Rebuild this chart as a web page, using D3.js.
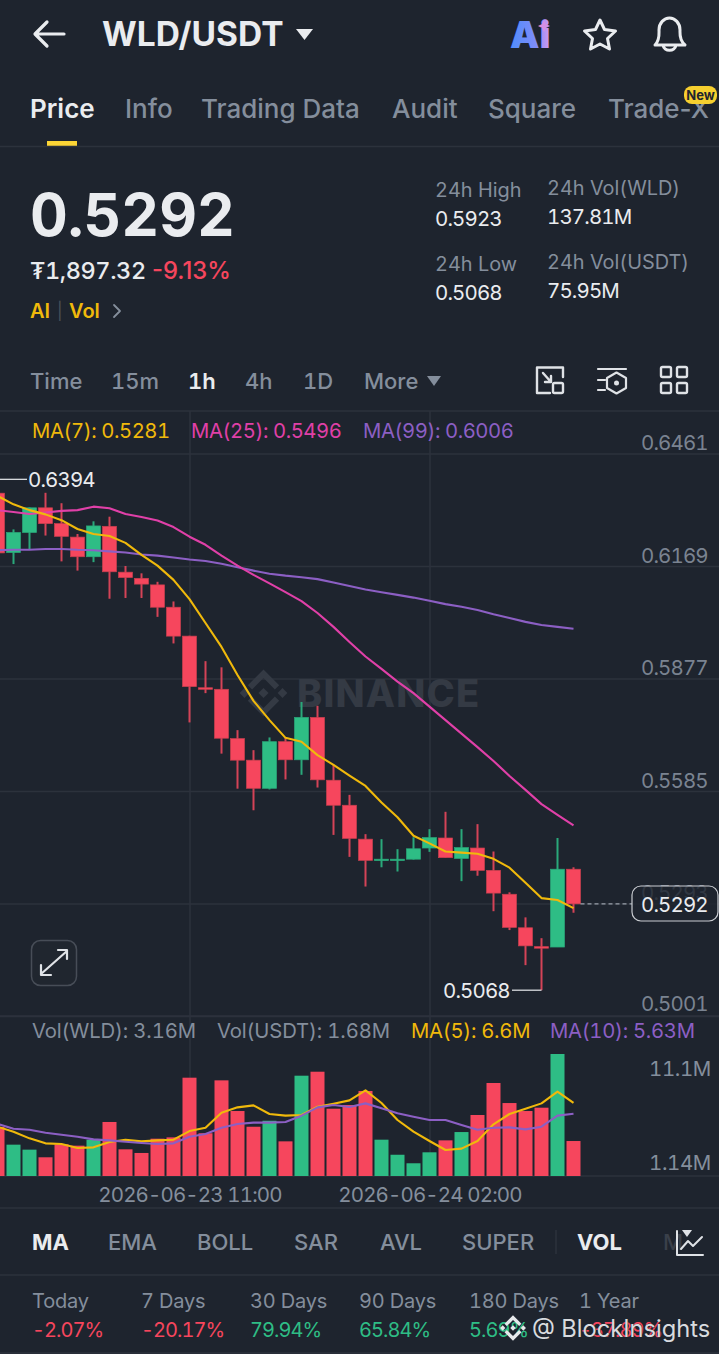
<!DOCTYPE html>
<html>
<head>
<meta charset="utf-8">
<style>
html,body{margin:0;padding:0;background:#1e242e;}
svg{display:block;}
text{font-family:Inter,"Noto Sans",sans-serif;font-variant-numeric:tabular-nums;font-feature-settings:"tnum";}
text.plain{font-variant-numeric:normal;font-feature-settings:normal;}
</style>
</head>
<body>
<svg id="chart" width="719" height="1354"></svg>
<script src="https://d3js.org/d3.v7.min.js"></script>
<script>
// one hour candles, oldest first
var openPrice = [.6358,.6204,.6256,.6320,.6279,.6244,.6193,.6272,.6153,.6137,.6120,.6062,.5987,.5853,.5849,.5721,.5665,.5592,.5713,.5666,.5776,.5613,.5548,.5460,.5405,.5405,.5408,.5437,.5463,.5410,.5437,.5379,.5317,.5230,.5181,.5180,.5382];
var highPrice = [.6372,.6264,.6321,.6359,.6332,.6252,.6285,.6297,.6169,.6150,.6128,.6077,.5988,.5922,.5906,.5743,.5691,.5724,.5722,.5816,.5806,.5653,.5575,.5473,.5460,.5434,.5465,.5486,.5531,.5486,.5499,.5428,.5322,.5257,.5203,.5463,.5387];
var lowPrice = [.6190,.6174,.6212,.6248,.6181,.6157,.6179,.6084,.6086,.6086,.6037,.5968,.5763,.5839,.5682,.5591,.5535,.5589,.5615,.5627,.5594,.5471,.5414,.5337,.5387,.5376,.5407,.5427,.5412,.5351,.5365,.5273,.5224,.5133,.5068,.5180,.5269];
var closePrice = [.6203,.6256,.6320,.6279,.6246,.6193,.6273,.6154,.6139,.6122,.6062,.5987,.5856,.5849,.5722,.5665,.5592,.5713,.5666,.5776,.5614,.5548,.5462,.5405,.5408,.5408,.5435,.5464,.5412,.5438,.5379,.5320,.5231,.5183,.5177,.5382,.5292];

var ma7 = [.6351,.6329,.6314,.6303,.6288,.6265,.6252,.6247,.6229,.6198,.6170,.6133,.6083,.6021,.5959,.5886,.5819,.5769,.5723,.5713,.5678,.5653,.5625,.5598,.5555,.5517,.5469,.5449,.5428,.5425,.5422,.5409,.5386,.5347,.5307,.5302,.5281];
var ma25 = [.6314,.6309,.6304,.6308,.6312,.6314,.6323,.6319,.6304,.6296,.6287,.6270,.6245,.6224,.6196,.6170,.6146,.6124,.6101,.6078,.6047,.6011,.5972,.5934,.5902,.5869,.5839,.5804,.5769,.5734,.5699,.5663,.5624,.5588,.5551,.5523,.5496];
var ma99 = [.6210,.6211,.6211,.6213,.6213,.6211,.6210,.6207,.6204,.6199,.6196,.6191,.6186,.6182,.6175,.6166,.6157,.6149,.6144,.6140,.6135,.6126,.6117,.6108,.6101,.6094,.6087,.6079,.6070,.6063,.6055,.6044,.6034,.6024,.6016,.6011,.6006];

// volume in millions
var volume = [4.43,2.83,2.38,1.69,2.86,2.74,3.28,4.88,2.41,2.08,3.37,3.49,8.88,3.86,8.64,5.87,4.45,4.99,3.13,9.06,9.42,6.08,6.41,7.68,3.28,1.92,1.15,2.14,3.22,3.97,5.51,8.40,6.59,5.87,6.17,11.02,3.16];
var volMa5 = [4.45,4.00,3.40,2.95,2.89,2.53,2.59,3.07,3.28,3.13,3.22,3.28,4.06,4.36,5.72,6.20,6.38,5.60,5.45,5.51,6.26,6.53,6.83,7.74,6.59,5.06,4.00,3.16,2.35,2.47,3.16,4.67,5.60,6.08,6.56,7.62,6.60];
var volMa10 = [4.70,4.27,4.18,3.91,3.73,3.55,3.31,3.22,3.10,2.98,2.89,2.95,3.55,3.79,4.36,4.70,4.82,4.82,4.88,5.45,6.20,6.41,6.23,6.56,6.11,5.66,5.36,5.06,5.06,4.61,4.18,4.36,4.39,4.21,4.45,5.45,5.63];

var priceTicks = [.6461,.6169,.5877,.5585,.5293,.5001];
var volTicks = [11.1,1.14];
var timeTicks = [12,27];
var timeLabels = ['2026-06-23 11:00','2026-06-24 02:00'];
var highMark = .6394, lowMark = .5068, lastPrice = .5292;

var BG = '#1e242e', GRID = '#2c323c', GREY = '#848e9c', WHITE = '#eaecef';
var RED = '#f6465d', GREEN = '#2ebd85', YELLOW = '#f0b90b', PINK = '#e040a8', PURPLE = '#8c5fc4';
var TIGHT = '-.042em';

var svg = d3.select('#chart');
svg.append('rect').attr('width',719).attr('height',1354).attr('fill',BG);

var x = d3.scaleLinear().domain([0,36]).range([-2.5,573.5]);
var y = d3.scaleLinear().domain([.5001,.6461]).range([1016,453.5]);
var yVol = d3.scaleLinear().domain([0,11.02]).range([1176,1054]);

function label(s, px, py, size, fill, weight, anchor) {
	return svg.append('text').attr('x',px).attr('y',py).attr('font-size',size)
		.attr('fill',fill).attr('font-weight',weight||400).attr('text-anchor',anchor||'start').text(s);
}
function hline(py, x0, x1, col) {
	svg.append('line').attr('x1',x0||0).attr('x2',x1||719).attr('y1',py).attr('y2',py)
		.attr('stroke',col||GRID).attr('stroke-width',1.5);
}
function icon(d, w, col, fill) {
	return svg.append('path').attr('d',d).attr('fill',fill||'none').attr('stroke',col||WHITE)
		.attr('stroke-width',w).attr('stroke-linecap','round').attr('stroke-linejoin','round');
}
function diamond(cx, cy, s, col) {
	var g = svg.append('g').attr('transform','translate('+cx+','+cy+') rotate(45) scale('+s+')').attr('fill',col);
	g.append('rect').attr('x',-2.6).attr('y',-2.6).attr('width',5.2).attr('height',5.2);
	g.append('rect').attr('x',-12.2).attr('y',7.2).attr('width',5).attr('height',5);
	g.append('rect').attr('x',7.2).attr('y',-12.2).attr('width',5).attr('height',5);
	g.append('path').attr('d','M-12,-12 H4 V-7.6 H-7.6 V4 H-12 Z');
	g.append('path').attr('d','M12,12 H-4 V7.6 H7.6 V-4 H12 Z');
}

// ---- header
icon('M64,34 H36 M47,22 L35,34 L47,46', 3.2);
label('WLD/USDT',102,46,33.5,WHITE,700);
svg.append('path').attr('d','M296,29 H313 L304.5,40 Z').attr('fill',WHITE);

var defs = svg.append('defs');
var ai = defs.append('linearGradient').attr('id','aiGrad').attr('x1','0').attr('x2','1').attr('y1','0').attr('y2','0');
ai.append('stop').attr('offset','0').attr('stop-color','#4f8dfb');
ai.append('stop').attr('offset','.65').attr('stop-color','#7f8cf8');
ai.append('stop').attr('offset','1').attr('stop-color','#d79af0');
label('Ai',510,48,37,'url(#aiGrad)',900);
svg.append('path').attr('d','M544,20 L546,24 L550,26 L546,28 L544,32 L542,28 L538,26 L542,24 Z').attr('fill','#d58fe6');
icon('M600,20 L604.5,29.5 L615.5,31 L607.5,38.5 L609.5,49 L600,44 L590.5,49 L592.5,38.5 L584.5,31 L595.5,29.5 Z', 3);
icon('M655,45 C660,40 659,34 659,30 C659,23 664,18 669.5,18 C675,18 680,23 680,30 C680,34 679,40 685,45 Z M663,45 C664,52 675,52 676,45', 3);

// ---- tabs
label('Price',30,118,26,WHITE,600);
[['Info',125],['Trading Data',201],['Audit',392],['Square',488],['Trade-X',608]].forEach(function(t){
	label(t[0],t[1],118,26,GREY,500).attr('class','plain');
});
svg.append('rect').attr('x',684).attr('y',86).attr('width',33).attr('height',18).attr('rx',8).attr('fill','#f6cf2f');
label('New',700.5,100,13,'#1e242e',700,'middle');
svg.append('rect').attr('x',47).attr('y',141).attr('width',30).attr('height',5).attr('fill','#fcd535');
hline(146.5);

// ---- price block
label('0.5292',30,236,58.5,WHITE,700);
label('\u20AE1,897.32',30,279,23.5,WHITE,500).attr('letter-spacing',-.4);
label('-9.13%',152,279,23.8,RED,500).attr('class','plain');
label('AI',30,318,20,YELLOW,600);
label('|',57,317,17,'#4a505a');
label('Vol',69,318,20,YELLOW,600);
icon('M114,305 L120,311 L114,317', 1.8, GREY);

[['24h High',435,197],['24h Low',435,271],['24h Vol(WLD)',547,195],['24h Vol(USDT)',547,269]].forEach(function(t){
	label(t[0],t[1],t[2],19.9,GREY);
});
[['0.5923',435,226],['0.5068',435,300],['137.81M',547,224],['75.95M',547,298]].forEach(function(t){
	label(t[0],t[1],t[2],20.5,WHITE).attr('letter-spacing',TIGHT);
});

// ---- interval row
[['Time',30],['15m',111],['4h',245],['1D',303],['More',364]].forEach(function(t){
	label(t[0],t[1],389,22,GREY,500);
});
label('1h',188,389,22,WHITE,600);
svg.append('path').attr('d','M427,376 H441 L434,386 Z').attr('fill',GREY);
icon('M537,381 V367.5 H563 V377 M550,393 H537 V381 M543,373 L551,382 M551,376 V382 H545', 2.4, '#dfe2e6');
svg.append('rect').attr('x',553).attr('y',383).attr('width',10).attr('height',10).attr('rx',1.5).attr('fill','none').attr('stroke','#dfe2e6').attr('stroke-width',2.4);
icon('M598,369 H626 M598,380 H605 M598,390 H605 M616.5,372.5 L626,378 V388 L616.5,393.5 L607,388 V378 Z', 2.2, '#dfe2e6');
svg.append('circle').attr('cx',616.5).attr('cy',383).attr('r',2.5).attr('fill','#dfe2e6');
[[661,367],[677,367],[661,383],[677,383]].forEach(function(p){
	svg.append('rect').attr('x',p[0]).attr('y',p[1]).attr('width',10).attr('height',10).attr('rx',1.5)
		.attr('fill','none').attr('stroke','#dfe2e6').attr('stroke-width',2.4);
});
hline(411);

// ---- price axis with grid lines
var priceAxis = d3.axisLeft(y).tickValues(priceTicks).tickSize(719).tickFormat(d3.format('.4f'));
var gPrice = svg.append('g').attr('transform','translate(719,0)').call(priceAxis);
gPrice.select('.domain').remove();
gPrice.selectAll('line').attr('stroke',GRID).attr('stroke-width',1.5);
gPrice.selectAll('text').attr('x',-78).attr('dy',function(d){return d==.5001?-6:-4}).attr('text-anchor','start')
	.attr('font-size',20.5).attr('letter-spacing',TIGHT).attr('fill',GREY).attr('opacity',.9).attr('font-family','Inter');

// ---- time axis, its grid lines run through both panes
var timeAxis = d3.axisBottom(x).tickValues(timeTicks).tickSize(-765)
	.tickFormat(function(d,i){ return timeLabels[i]; });
var gTime = svg.append('g').attr('transform','translate(0,1176)').call(timeAxis);
gTime.select('.domain').remove();
gTime.selectAll('line').attr('stroke',GRID).attr('stroke-width',1.5);
gTime.selectAll('text').attr('y',0).attr('dy',26).attr('font-size',20.5).attr('letter-spacing',TIGHT)
	.attr('fill',GREY).attr('font-family','Inter');
hline(1016); hline(1176); hline(1208);

// ---- watermark
diamond(263.5,693,1.385,'#343a44');
label('BINANCE',297,707,38,'#343a44',800).attr('letter-spacing',1.2);

// ---- legend
label('MA(7): 0.5281',32,438,20.3,YELLOW).attr('letter-spacing',-.43);
label('MA(25): 0.5496',191,438,20.3,PINK).attr('letter-spacing',-.43);
label('MA(99): 0.6006',363,438,20.3,PURPLE).attr('letter-spacing',-.43);

// ---- candles
var idx = d3.range(openPrice.length);
function isUp(i){ return closePrice[i] >= openPrice[i]; }
svg.append('g').selectAll('line').data(idx).join('line')
	.attr('x1',function(i){return x(i)}).attr('x2',function(i){return x(i)})
	.attr('y1',function(i){return y(highPrice[i])}).attr('y2',function(i){return y(lowPrice[i])})
	.attr('stroke',function(i){return isUp(i)?'#2aa87a':'#d44357'}).attr('stroke-width',2);
svg.append('g').selectAll('rect').data(idx).join('rect')
	.attr('x',function(i){return x(i)-7}).attr('width',14)
	.attr('y',function(i){return y(Math.max(openPrice[i],closePrice[i]))})
	.attr('height',function(i){return Math.max(1.4,Math.abs(y(openPrice[i])-y(closePrice[i])))})
	.attr('fill',function(i){return isUp(i)?GREEN:RED})
	.attr('stroke',function(i){return isUp(i)?'#2aa87a':'#c9404f'}).attr('stroke-width',.7);

function drawLine(values, yScale, col, w) {
	var line = d3.line().x(function(d,i){return x(i)}).y(function(d){return yScale(d)});
	svg.append('path').attr('d',line(values)).attr('fill','none').attr('stroke',col)
		.attr('stroke-width',w).attr('stroke-linejoin','round');
}
drawLine(ma99,y,PURPLE,2.1);
drawLine(ma25,y,PINK,2.1);
drawLine(ma7,y,YELLOW,2.1);

// ---- high and low markers
var yHigh = y(highMark), yLow = y(lowMark);
svg.append('line').attr('x1',0).attr('x2',27).attr('y1',yHigh).attr('y2',yHigh).attr('stroke',WHITE).attr('stroke-width',1.2);
label(highMark.toFixed(4),28,yHigh+8,20.5,WHITE).attr('letter-spacing',TIGHT);
svg.append('line').attr('x1',512).attr('x2',x(34)).attr('y1',yLow).attr('y2',yLow).attr('stroke',WHITE).attr('stroke-width',1.2);
label(lowMark.toFixed(4),443,yLow+8,20.5,WHITE).attr('letter-spacing',TIGHT);

// ---- last price
var yLast = y(lastPrice);
svg.append('line').attr('x1',x(36)+7).attr('x2',632).attr('y1',yLast).attr('y2',yLast)
	.attr('stroke','#9aa1ab').attr('stroke-width',1.2).attr('stroke-dasharray','4,3');
svg.append('rect').attr('x',632).attr('y',886).attr('width',86).attr('height',35).attr('rx',9)
	.attr('fill',BG).attr('fill-opacity',.8).attr('stroke','#c9ccd1').attr('stroke-width',1.2);
label(lastPrice.toFixed(4),641,912,20.5,WHITE).attr('letter-spacing',TIGHT);

// ---- expand button
svg.append('rect').attr('x',31.5).attr('y',940.5).attr('width',45).attr('height',45).attr('rx',9)
	.attr('fill','#20262f').attr('stroke','#474d57').attr('stroke-width',1.5);
icon('M41,974 L67,951 M58,950 H67 V959 M41,965 V975 H51', 2.2, '#e0e3e7');

// ---- volume pane
label('Vol(WLD): 3.16M',32,1038,20.3,GREY).attr('letter-spacing',-.15);
label('Vol(USDT): 1.68M',217,1038,20.3,GREY).attr('letter-spacing',-.15);
label('MA(5): 6.6M',411,1038,20.3,YELLOW).attr('letter-spacing',-.28);
label('MA(10): 5.63M',550,1038,20.3,PURPLE).attr('letter-spacing',-.3);

svg.append('g').selectAll('rect').data(idx).join('rect')
	.attr('x',function(i){return x(i)-7}).attr('width',14)
	.attr('y',function(i){return yVol(volume[i])})
	.attr('height',function(i){return yVol(0)-yVol(volume[i])})
	.attr('fill',function(i){return isUp(i)?GREEN:RED});
drawLine(volMa5,yVol,YELLOW,2.1);
drawLine(volMa10,yVol,PURPLE,2.1);

var volAxis = d3.axisRight(yVol).tickValues(volTicks).tickSize(0).tickFormat(function(d){return d+'M'});
var gVol = svg.append('g').attr('transform','translate(649,0)').call(volAxis);
gVol.select('.domain').remove();
gVol.selectAll('text').attr('x',0).attr('dy',function(d){return d>5?22:6})
	.attr('font-size',20.5).attr('letter-spacing',-.4).attr('fill',GREY).attr('font-family','Inter');

// ---- indicator row
[['EMA',108],['BOLL',197],['SAR',294],['AVL',380],['SUPER',462]].forEach(function(t){
	label(t[0],t[1],1250,22,GREY,500);
});
label('MA',32,1250,22,WHITE,700);
label('VOL',577,1250,22,WHITE,700);
label('M',663,1250,22,'#3a404a',500);
svg.append('line').attr('x1',556).attr('x2',556).attr('y1',1230).attr('y2',1254).attr('stroke',GRID).attr('stroke-width',1.5);
icon('M677,1231 V1255 H703 M681,1249 L688,1241 L693,1246 L702,1237', 2, '#dfe2e6');
svg.append('path').attr('d','M682,1230 H692 L687,1237 Z').attr('fill','#dfe2e6');
hline(1275);

// ---- performance row
var perfLabels = ['Today','7 Days','30 Days','90 Days','180 Days','1 Year'];
var perfValues = ['-2.07%','-20.17%','79.94%','65.84%','5.69%','-37.89%'];
var perfX = [32,141,250,359,469,579];
perfLabels.forEach(function(s,i){
	label(s,perfX[i],1308,20,GREY).attr('letter-spacing',-.2);
	label(perfValues[i],perfX[i],1337,20,perfValues[i][0]=='-'?RED:GREEN).attr('letter-spacing','-.047em');
});
hline(1353);

// ---- author tag laid over the row
diamond(513,1328,.75,'#e6e8eb');
label('@ BlockInsights',532,1337,23.7,'#d8dbdf',400).attr('style','paint-order:stroke;stroke:#20262e;stroke-width:.6px;');
</script>
</body>
</html>
